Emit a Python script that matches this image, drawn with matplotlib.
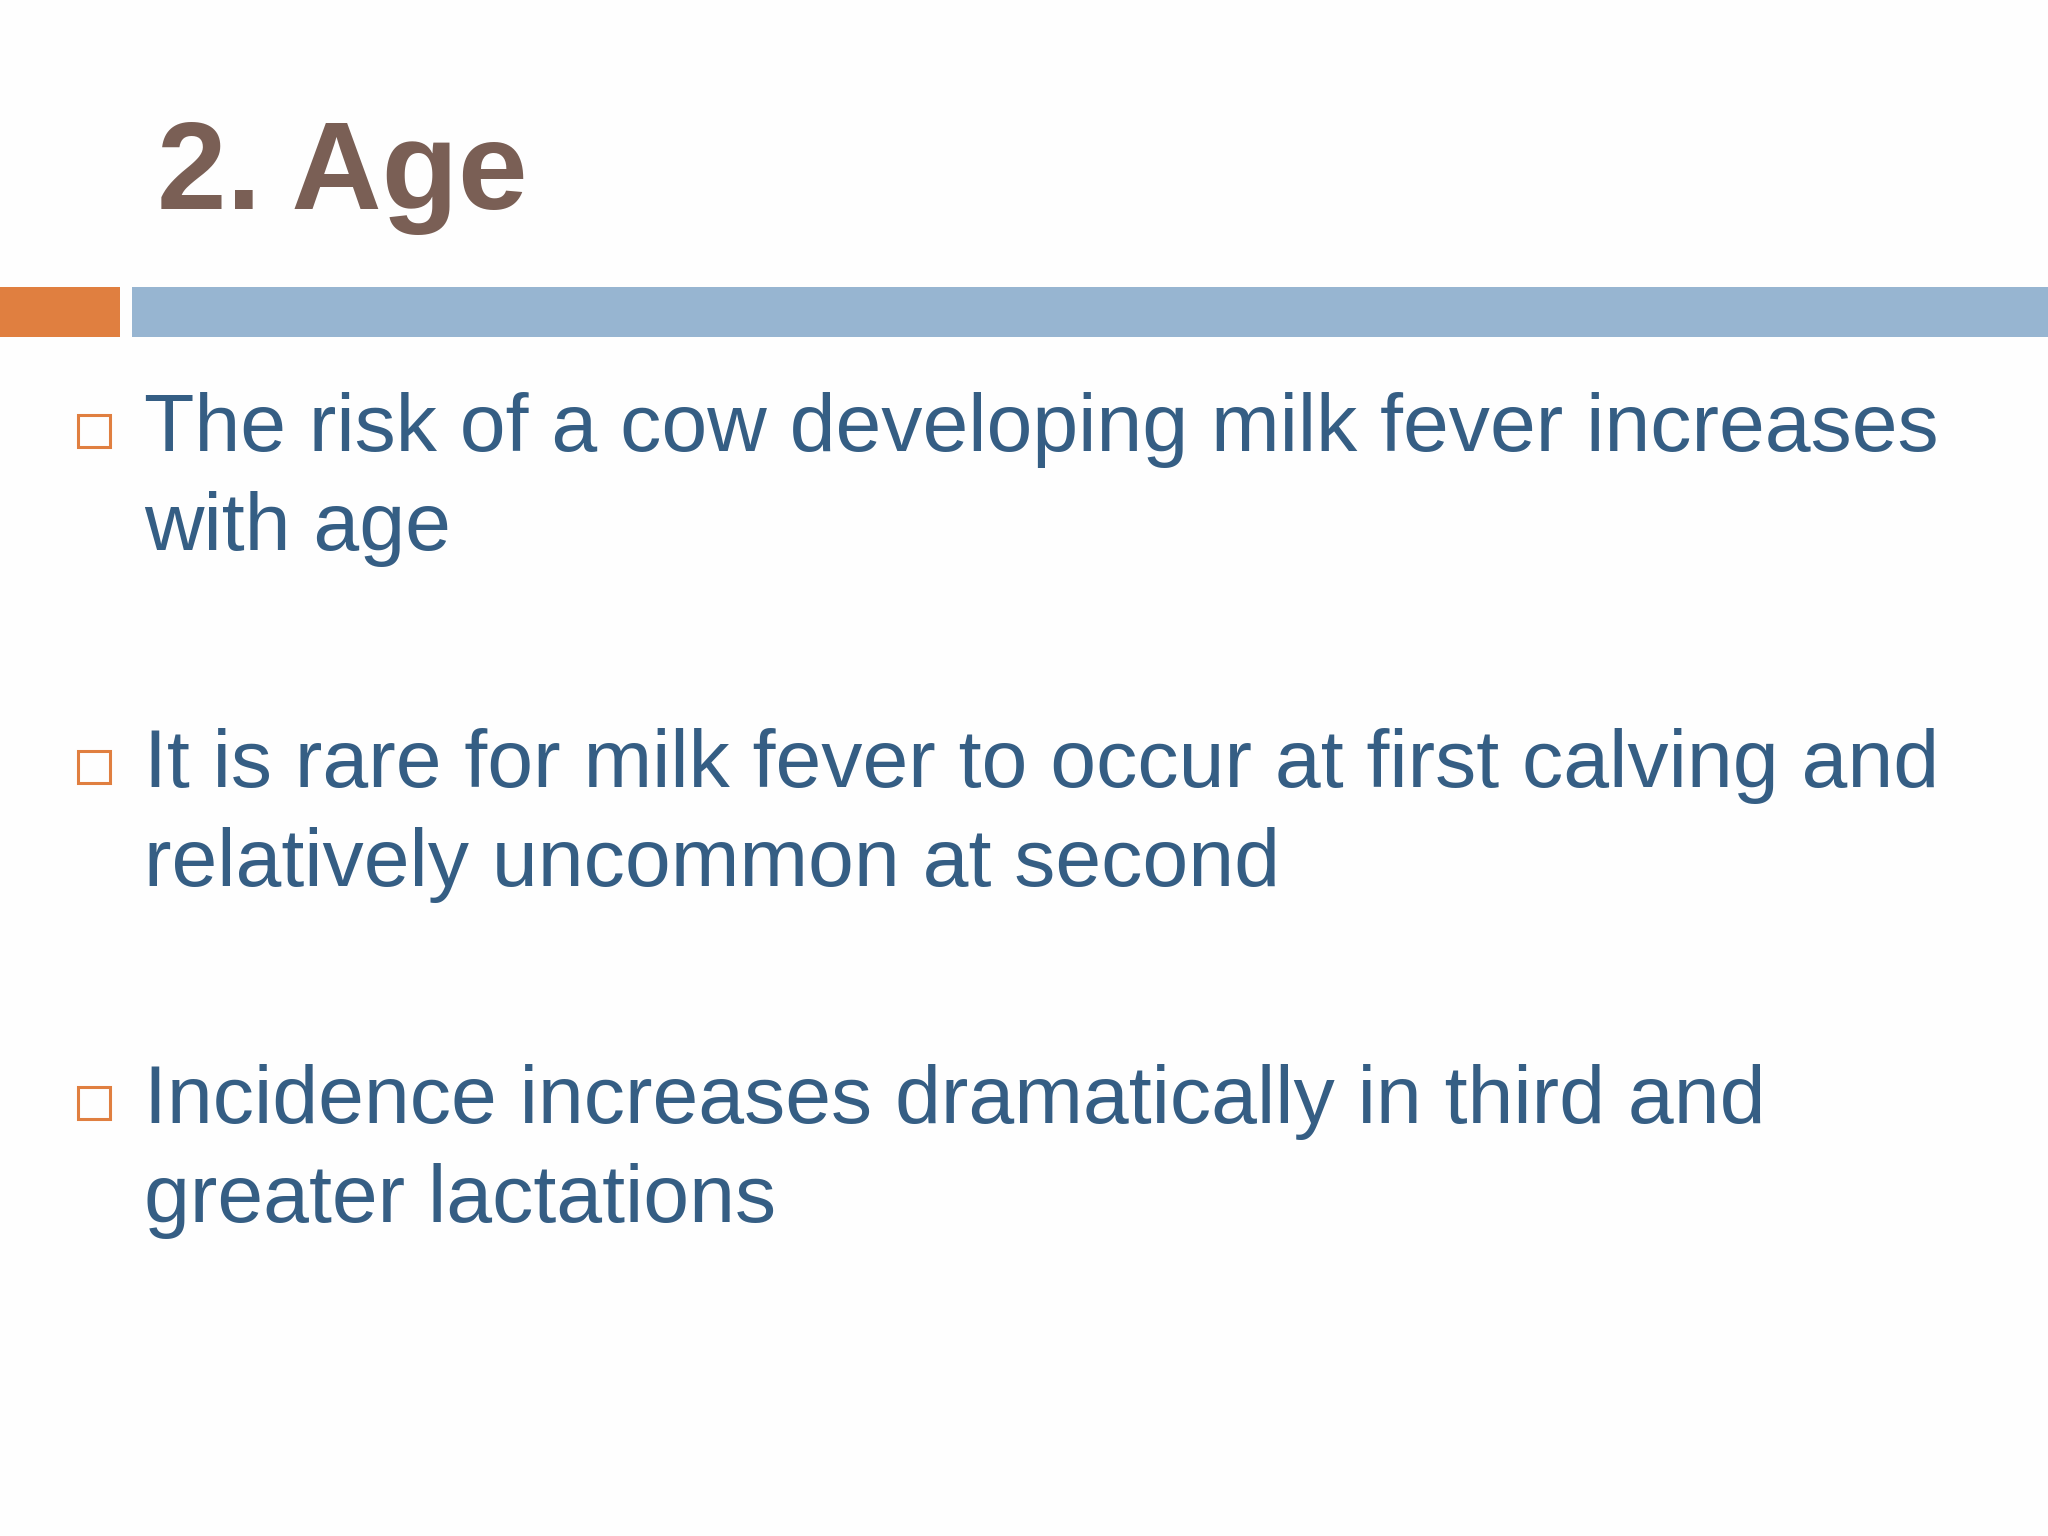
import matplotlib
matplotlib.use("Agg")
import matplotlib.pyplot as plt
from matplotlib.patches import Rectangle

title = "2. Age"
bullet_lines = [
    ["The risk of a cow developing milk fever increases", "with age"],
    ["It is rare for milk fever to occur at first calving and", "relatively uncommon at second"],
    ["Incidence increases dramatically in third and", "greater lactations"],
]

W, H = 2048, 1536
fig = plt.figure(figsize=(W / 100, H / 100), dpi=100)
fig.patch.set_facecolor("#FEFEFE")
ax = fig.add_axes([0, 0, 1, 1])
ax.set_xlim(0, W)
ax.set_ylim(H, 0)
ax.axis("off")

title_color = "#7A5F55"
text_color = "#355E84"
orange = "#E07F40"
blue = "#97B5D1"
font = "Liberation Sans"

ax.text(157, 209, title, fontsize=90, fontweight="bold", color=title_color,
        family=font, va="baseline", ha="left")

ax.add_patch(Rectangle((0, 287), 120, 50, facecolor=orange, edgecolor="none"))
ax.add_patch(Rectangle((132, 287), W - 132, 50, facecolor=blue, edgecolor="none"))

baselines = [451, 787, 1123]
line_gap = 99
for lines, b in zip(bullet_lines, baselines):
    ax.add_patch(Rectangle((78, b - 36), 32, 32, facecolor="none",
                           edgecolor=orange, linewidth=2.2))
    for i, ln in enumerate(lines):
        ax.text(144, b + i * line_gap, ln, fontsize=59.3, color=text_color,
                family=font, va="baseline", ha="left")

fig.savefig("out.png", dpi=100, facecolor=fig.get_facecolor())
